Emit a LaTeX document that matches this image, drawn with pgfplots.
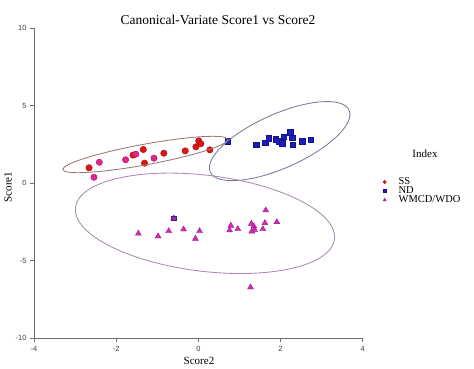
\documentclass[border=0pt]{standalone}
\usepackage{pgfplots}
\pgfplotsset{compat=1.18}
\usepackage{fontspec}
\setmainfont{Liberation Serif}
\newfontfamily\tickfont{Liberation Sans}
\definecolor{ssfill}{HTML}{E01414}
\definecolor{ssdraw}{HTML}{A00808}
\definecolor{pkfill}{HTML}{E0258C}
\definecolor{pkdraw}{HTML}{B01066}
\definecolor{ndfill}{HTML}{1E1EB8}
\definecolor{nddraw}{HTML}{12128C}
\definecolor{wmfill}{HTML}{D42AB4}
\definecolor{wmdraw}{HTML}{9A1A8A}
\definecolor{elss}{HTML}{9A7872}
\definecolor{elnd}{HTML}{7A7A9C}
\definecolor{elwm}{HTML}{A88AAE}
\definecolor{axgray}{HTML}{6E6E6E}
\begin{document}
\begin{tikzpicture}
\begin{axis}[
  scale only axis, width=328.7pt, height=310pt,
  xmin=-4, xmax=4, ymin=-10, ymax=10,
  axis x line*=bottom, axis y line*=left,
  xtick={-4,-2,0,2,4}, ytick={-10,-5,0,5,10},
  tick align=outside, major tick length=4pt,
  axis line style={axgray, line width=0.9pt},
  every tick/.style={axgray, line width=0.8pt},
  /pgf/number format/assume math mode=true,
  ticklabel style={font=\tickfont\fontsize{7.5}{8}\selectfont, text=black!75},
  xticklabel style={yshift=-1pt},
  legend image code/.code={\draw[#1, mark size=1.7pt] plot coordinates {(3pt,0pt)};},
  legend style={draw=none, fill=none, at={(1.052,0.525)}, anchor=north west,
    font=\fontsize{10.5}{10.5}\selectfont, row sep=0pt,
    nodes={inner sep=0.25pt, text height=7pt, text depth=1.5pt},
    /tikz/every odd column/.append style={column sep=12pt}},
  legend cell align=left,
  clip=false,
]
\addplot[only marks, mark=*, mark size=3.2pt, mark options={fill=ssfill, draw=ssdraw}] coordinates {
(-2.66,0.98) (-1.59,1.80) (-1.34,2.16) (-1.31,1.28) (-0.84,1.92) (-0.32,2.07)
(-0.06,2.33) (0.01,2.72) (0.06,2.53) (0.28,2.14)
};
\addlegendentry{SS}
\addplot[only marks, mark=square*, mark size=2.7pt, mark options={fill=ndfill, draw=nddraw}] coordinates {
(0.72,2.69) (1.41,2.48) (1.63,2.61) (1.71,2.90) (1.88,2.82) (1.95,2.69)
(2.04,2.58) (2.08,2.97) (2.24,3.29) (2.28,2.93) (2.29,2.48) (2.53,2.69) (2.73,2.80)
};
\addlegendentry{ND}
\addplot[only marks, mark=triangle*, mark size=3.4pt, mark options={fill=wmfill, draw=wmdraw}] coordinates {
(-1.46,-3.26) (-0.98,-3.44) (-0.72,-3.10) (-0.60,-2.28) (-0.36,-2.99) (-0.07,-3.59)
(0.03,-3.10) (0.79,-2.75) (0.76,-3.05) (0.96,-2.97) (1.29,-2.62) (1.35,-2.79)
(1.37,-3.01) (1.30,-3.12) (1.57,-2.97) (1.62,-2.58) (1.64,-1.76) (1.91,-2.52) (1.27,-6.73)
};
\addlegendentry{WMCD/WDO}
\addplot[forget plot, only marks, mark=*, mark size=3.2pt, mark options={fill=pkfill, draw=pkdraw}] coordinates {
(-2.41,1.34) (-2.54,0.37) (-1.77,1.50) (-1.52,1.86) (-1.08,1.60)
};
\addplot[forget plot, only marks, mark=square*, mark size=2.2pt, mark options={fill=wmfill!70!ndfill, draw=nddraw!60!wmdraw}] coordinates {
(-0.60,-2.28)
};
\coordinate (O) at (rel axis cs:0,0);
\coordinate (cSS) at (axis cs:-1.293,1.839);
\coordinate (cND) at (axis cs:1.979,2.703);
\coordinate (cWM) at (axis cs:0.161,-2.60);
\end{axis}
\draw[elss, line width=0.85pt, rotate around={10.4:(cSS)}] (cSS) ellipse [x radius=83.8pt, y radius=10.3pt];
\draw[elnd, line width=0.85pt, rotate around={24:(cND)}] (cND) ellipse [x radius=76pt, y radius=27pt];
\draw[elwm, line width=0.85pt, rotate around={-7:(cWM)}] (cWM) ellipse [x radius=130.5pt, y radius=48pt];
\node[font=\fontsize{13.5}{14}\selectfont] at ([shift={(184pt,318pt)}]O) {Canonical-Variate Score1 vs Score2};
\node[font=\fontsize{11}{12}\selectfont, rotate=90] at ([shift={(-26pt,151pt)}]O) {Score1};
\node[font=\fontsize{11}{12}\selectfont] at ([shift={(165pt,-23pt)}]O) {Score2};
\node[font=\fontsize{11}{12}\selectfont] at ([shift={(391pt,184pt)}]O) {Index};
\pgfresetboundingbox
\path[use as bounding box] ([shift={(-34pt,-31pt)}]O) rectangle ++(474pt,369pt);
\end{tikzpicture}
\end{document}
